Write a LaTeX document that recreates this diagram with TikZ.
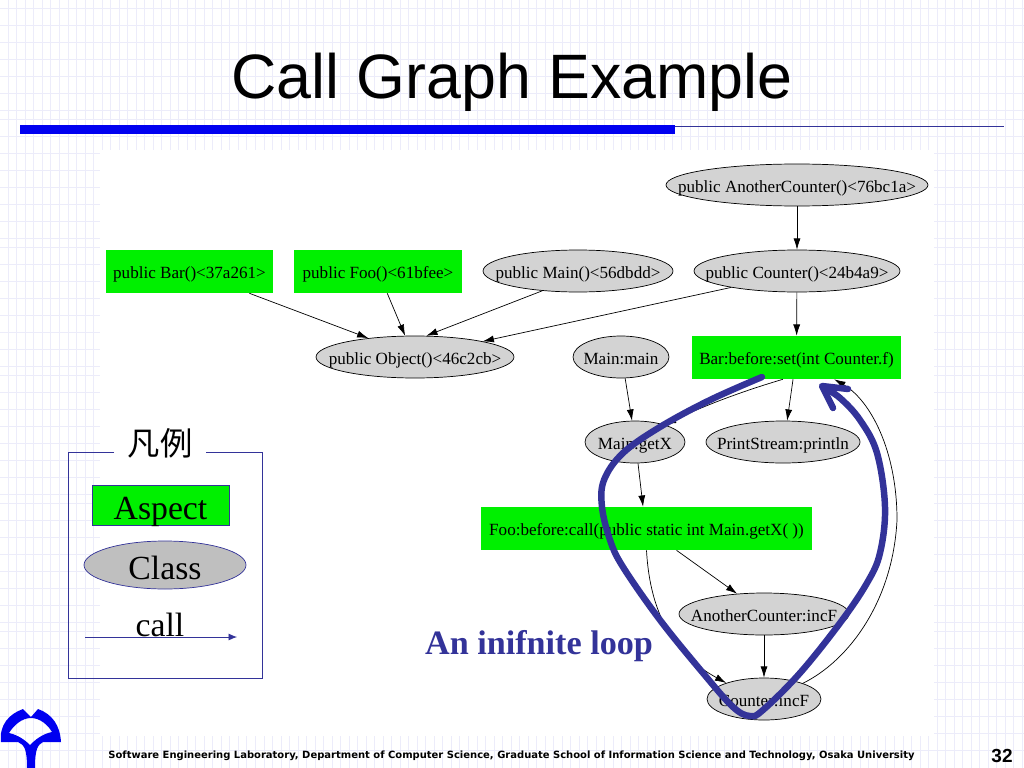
\documentclass[tikz,border=0pt]{standalone}
\usepackage{fontspec}
\setmainfont{Liberation Serif}
\setsansfont{Liberation Sans}
\newfontfamily\cjkfont{Noto Sans CJK JP}
\newfontfamily\footfont{DejaVu Sans}
\usetikzlibrary{shapes.geometric,arrows.meta}
\definecolor{gridcol}{HTML}{ECECFA}
\definecolor{loopcol}{HTML}{333399}
\definecolor{aspectcol}{HTML}{00F000}
\definecolor{classcol}{HTML}{D3D3D3}
\definecolor{barcol}{HTML}{0000F0}
\newcommand{\gtext}[1]{\makebox[0pt]{\raisebox{-5pt}[0pt][0pt]{#1}}}
\newcommand{\ltext}[1]{\makebox[0pt]{\raisebox{-10.2pt}[0pt][0pt]{#1}}}
\tikzset{
  aspectnode/.style={rectangle, fill=aspectcol, inner sep=0pt, font=\fontsize{12.15}{13}\selectfont},
  classnode/.style={ellipse, draw=black, line width=0.5pt, fill=classcol, inner sep=0pt, minimum height=42*0.711pt, font=\fontsize{12.15}{13}\selectfont},
  callarrow/.style={line width=0.5pt, -{Latex[length=8pt,width=5pt]}},
  legendtext/.style={font=\fontsize{24}{26}\selectfont, inner sep=0pt},
  loopline/.style={loopcol, line width=4.6pt, line cap=round, line join=round}
}
\begin{document}
\begin{tikzpicture}[x=0.025cm, y=-0.025cm]
  \useasboundingbox (0, 0) rectangle (1024, 768);
  % backdrop
  \fill[white] (0, 0) rectangle (1024, 768);
  \foreach \i in {0,...,120} {
    \draw[gridcol, line width=0.6pt] ({-0.2 + 8.52*\i}, 0) -- ({-0.2 + 8.52*\i}, 768);
  }
  \foreach \t in {-9,119,247,375,503,631} {
    \foreach \k in {0,...,7} {
      \draw[gridcol, line width=0.6pt] (0, {\t + 17*\k}) -- (1024, {\t + 17*\k});
    }
  }
  \fill[white] (100, 150) rectangle (934, 736);
  % title and rule
  \node[font=\sffamily\fontsize{44.6}{48}\selectfont, inner sep=0pt] (title) at (512, 82) {Call Graph Example};
  \fill[barcol] (20, 125.5) rectangle (675, 134);
  \draw[loopcol, line width=0.6pt] (675, 126) -- (1004, 126);
  % graph
  \node[classnode, minimum width=262*0.711pt] (another) at (797, 185) {\gtext{public AnotherCounter()<76bc1a>}};
  \node[classnode, minimum width=206*0.711pt] (counter) at (797, 271) {\gtext{public Counter()<24b4a9>}};
  \node[aspectnode, minimum width=167*0.711pt, minimum height=43*0.711pt] (bar) at (189.5, 271.5) {\gtext{public Bar()<37a261>}};
  \node[aspectnode, minimum width=168*0.711pt, minimum height=43*0.711pt] (foo) at (378, 271.5) {\gtext{public Foo()<61bfee>}};
  \node[classnode, minimum width=190*0.711pt] (mainctor) at (578, 271) {\gtext{public Main()<56dbdd>}};
  \node[classnode, minimum width=198*0.711pt] (object) at (415, 357) {\gtext{public Object()<46c2cb>}};
  \node[classnode, minimum width=96*0.711pt] (mainmain) at (621, 357) {\gtext{Main:main}};
  \node[aspectnode, minimum width=209*0.711pt, minimum height=43*0.711pt] (barbefore) at (796.5, 357.5) {\gtext{Bar:before:set(int Counter.f)}};
  \node[classnode, minimum width=100*0.711pt] (getx) at (635, 442) {\gtext{Main:getX}};
  \node[classnode, minimum width=154*0.711pt] (println) at (783, 442) {\gtext{PrintStream:println}};
  \node[aspectnode, minimum width=331*0.711pt, minimum height=43*0.711pt] (foobefore) at (646.5, 528.5) {\gtext{Foo:before:call(public static int Main.getX( ))}};
  \node[classnode, minimum width=170*0.711pt] (anotherinc) at (764, 614) {\gtext{AnotherCounter:incF}};
  \node[classnode, minimum width=114*0.711pt] (counterinc) at (764, 699) {\gtext{Counter:incF}};
  \draw[callarrow] (another) -- (counter);
  \draw[callarrow] (counter) -- (barbefore);
  \draw[callarrow] (bar.-20.5) -- (object.158);
  \draw[callarrow] (foo.-67) -- (object.115);
  \draw[callarrow] (mainctor.209) -- (object.62);
  \draw[callarrow] (counter.194) -- (object.13);
  \draw[callarrow] (mainmain.-79) -- (getx.98);
  \draw[callarrow] (barbefore.-122) .. controls (730, 395) and (695, 410) .. (getx.30);
  \draw[callarrow] (barbefore.-99) -- (println.79);
  \draw[callarrow] (getx.-82) -- (foobefore.99);
  \draw[callarrow] (foobefore.-36) -- (anotherinc.143);
  \draw[callarrow] (foobefore.-90) .. controls (650, 615) and (675, 655) .. (counterinc.157);
  \draw[callarrow] (anotherinc) -- (counterinc);
  \draw[callarrow] (counterinc.22) .. controls (850, 660) and (893, 600) .. (897, 520) .. controls (897, 450) and (870, 400) .. (barbefore.-30);
  % legend
  \draw[loopcol, line width=0.5pt] (114, 452) -- (68, 452) -- (68, 678) -- (262, 678) -- (262, 452) -- (206, 452);
  \node[font=\cjkfont\fontsize{23}{25}\selectfont, inner sep=0pt] (legendtitle) at (160, 443) {凡例};
  \node[legendtext, rectangle, draw=loopcol, fill=aspectcol, line width=0.5pt, minimum width=137*0.711pt, minimum height=40*0.711pt] (legendaspect) at (160.5, 505) {\ltext{Aspect}};
  \node[legendtext, ellipse, draw=loopcol, fill=black!25, line width=0.5pt, minimum width=162*0.711pt, minimum height=48*0.711pt] (legendclass) at (165, 565) {\ltext{Class}};
  \node[legendtext] (legendcall) at (160, 625) {call};
  \coordinate (callstart) at (85, 637);
  \coordinate (callend) at (237, 637);
  \draw[loopcol, line width=0.6pt, -{Latex[length=6pt,width=5pt]}] (callstart) -- (callend);
  % the loop
  \node[font=\bfseries\fontsize{24.3}{26}\selectfont, text=loopcol, inner sep=0pt] (looplabel) at (539, 646) {An inifnite loop};
  \draw[loopline] plot[smooth, tension=0.6] coordinates {(762, 377) (710, 400) (660, 427) (623, 453) (604, 480) (602, 507) (610, 540) (623, 567) (660, 620) (703, 673) (733, 707) (750, 716) (763, 710) (800, 673) (840, 623) (867, 583) (880, 553) (885, 507) (877, 453) (860, 420) (840, 398) (823, 387)};
  \draw[loopline] (848, 389) -- (822, 386) -- (833, 408);
  % footer
  \node[font=\footfont\bfseries\fontsize{7.1}{8}\selectfont, inner sep=0pt] (footer) at (511.5, 756) {Software Engineering Laboratory, Department of Computer Science, Graduate School of Information Science and Technology, Osaka University};
  \node[font=\sffamily\bfseries\fontsize{13.5}{15}\selectfont, inner sep=0pt] (pagenum) at (1002, 756) {32};
  \fill[barcol, even odd rule] (23, 709) -- (31, 717) -- (38, 709) .. controls (52, 714) and (60, 725) .. (61, 742) -- (43, 742) .. controls (38, 745) and (35, 748) .. (35, 768) -- (27, 768) .. controls (27, 748) and (24, 745) .. (18, 742) -- (1, 742) .. controls (-1, 725) and (9, 714) .. (23, 709) -- cycle
    (31, 718) .. controls (40, 718) and (48, 725) .. (52, 732) .. controls (42, 734) and (35, 740) .. (30, 745) .. controls (25, 740) and (18, 735) .. (9, 733) .. controls (14, 725) and (22, 718) .. (31, 718) -- cycle;
\end{tikzpicture}
\end{document}
